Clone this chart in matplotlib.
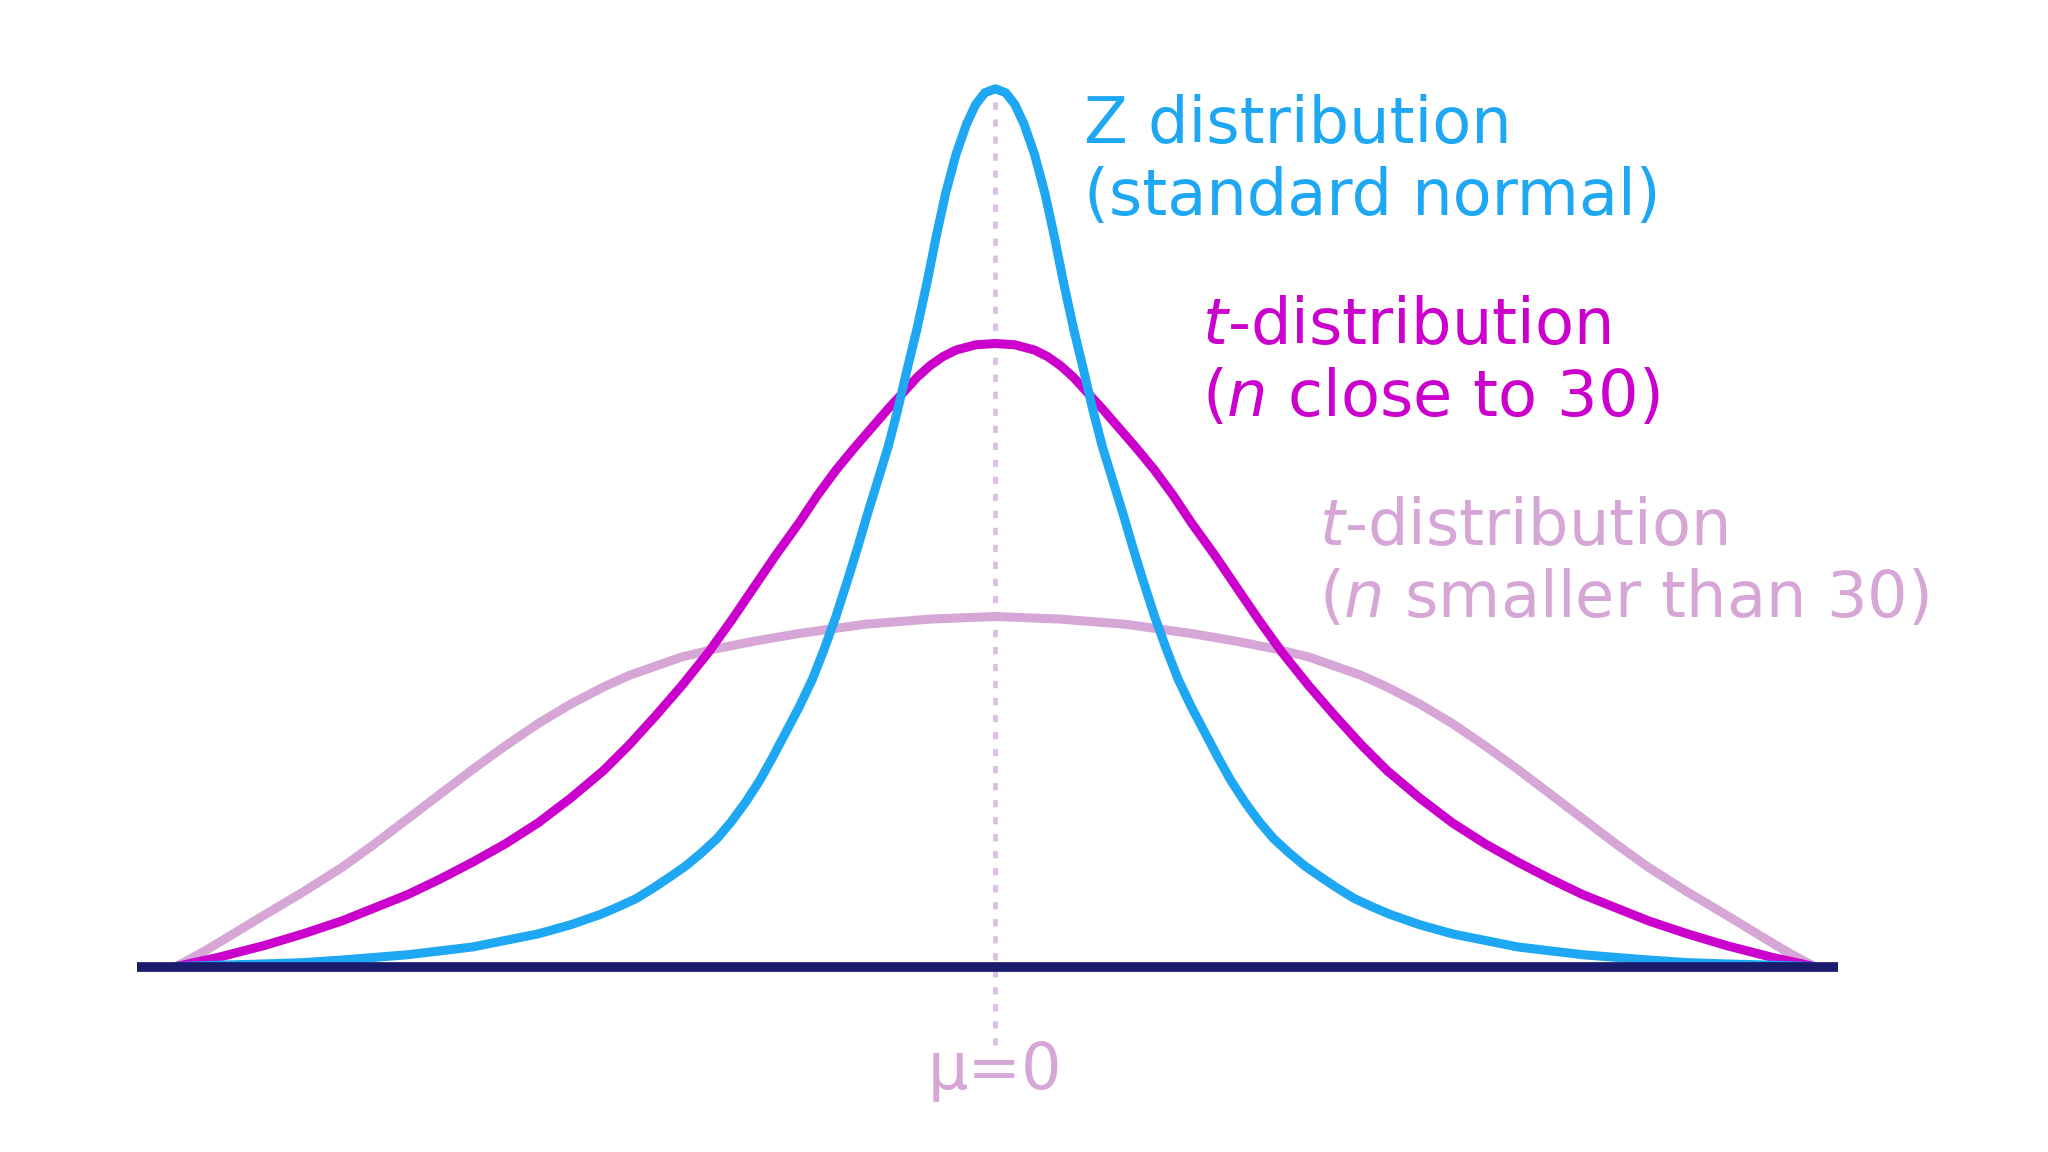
import numpy as np
import matplotlib.pyplot as plt

# one-sided profiles (offset from centre in px, height above baseline in px), mirrored
z_off = [0, 8, 15, 22, 30, 38, 45, 52, 60, 68, 75, 82, 90, 98, 105, 113, 122, 131, 140, 150, 160, 170, 180, 191,
         202, 213, 225, 237, 250, 262, 275, 288, 302, 325, 350, 375, 400, 425, 450, 475, 500, 530, 560, 595, 627]
z_h = [672, 669, 660, 645, 622, 592, 560, 525, 488, 455, 425, 398, 372, 346, 322, 296, 268, 243, 220, 199, 180, 161,
       143, 126, 111, 98, 87, 77, 68, 60, 52, 46, 40, 32, 25, 20, 15, 12, 9, 7, 5, 3, 2, 1, 0]
t30_off = [0, 15, 30, 40, 50, 60, 70, 82, 95, 108, 122, 136, 150, 168, 185, 202, 220, 240, 260, 280, 300, 325, 350,
           375, 400, 425, 450, 475, 500, 530, 560, 595, 627]
t30_h = [477, 476, 472, 467, 460, 451, 440, 427, 412, 397, 380, 361, 340, 315, 290, 265, 240, 215, 192, 170, 150, 129,
         110, 94, 80, 67, 55, 45, 35, 25, 16, 7, 0]
ts_off = [0, 50, 100, 150, 185, 215, 240, 260, 280, 300, 325, 350, 375, 400, 425, 450, 475, 500, 530, 562, 585,
          605, 627]
ts_h = [268, 266, 262, 255, 249, 243, 237, 230, 223, 214, 201, 186, 169, 151, 132, 113, 94, 76, 57, 38, 24, 12, 0]

centre = 762
base = 740

labels = [
    ("Z distribution\n(standard normal)", 830, 72, "#1ea7f2"),
    ("$t$-distribution\n($n$ close to 30)", 920, 226, "#cc00cc"),
    ("$t$-distribution\n($n$ smaller than 30)", 1010, 380, "#d6a6d6"),
]

fig = plt.figure(figsize=(20.48, 11.52), dpi=100)
ax = fig.add_axes([0, 0, 1, 1])
ax.set_xlim(0, 1568)
ax.set_ylim(882, 0)
ax.axis('off')


def mirror(off, h):
    off = np.array(off, float)
    h = np.array(h, float)
    xs = np.concatenate([centre - off[::-1], centre + off[1:]])
    ys = np.concatenate([base - h[::-1], base - h[1:]])
    return xs, ys


ax.plot([centre, centre], [base + 60, 75], ls=(0, (1.5, 2)), color="#dcc0e2", lw=3.5, zorder=1)
ax.plot([105, 1407], [base, base], color="#1b1b6e", lw=7, zorder=5, solid_capstyle='butt')

for off, h, c in [(ts_off, ts_h, "#d6a6d6"), (t30_off, t30_h, "#cc00cc"), (z_off, z_h, "#1ea7f2")]:
    xs, ys = mirror(off, h)
    ax.plot(xs, ys, color=c, lw=6.5, solid_joinstyle='round', solid_capstyle='round', zorder=3)

for txt, x, y, c in labels:
    ax.text(x, y, txt, color=c, fontsize=46, va='top', ha='left', linespacing=1.2,
            family='DejaVu Sans')

ax.text(centre, 820, "μ=0", color="#d6a6d6", fontsize=46, ha='center', va='center')

fig.savefig("out.png", dpi=100)
